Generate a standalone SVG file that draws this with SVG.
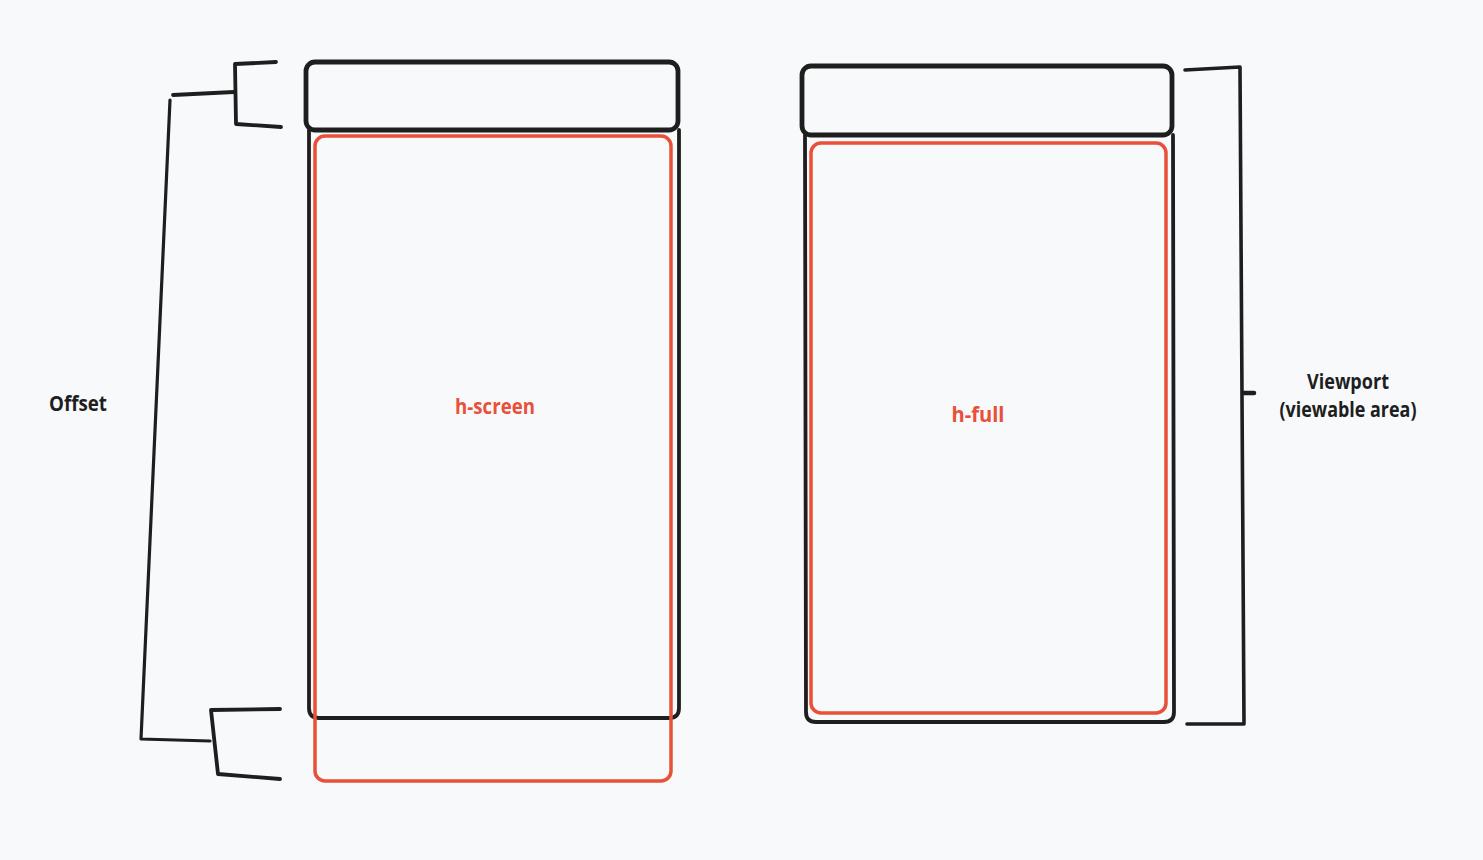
<svg xmlns="http://www.w3.org/2000/svg" width="1483" height="860" viewBox="0 0 1483 860">
<style>
.blk{fill:none;stroke:#1e1e1e;stroke-linecap:round;stroke-linejoin:round}
.red{fill:none;stroke:#e8503a;stroke-width:3.5;stroke-linejoin:round}
.t{font-family:"Open Sans","Liberation Sans",sans-serif;font-weight:700;font-size:22px;text-anchor:middle;dominant-baseline:central}
</style>
<rect width="1483" height="860" fill="#f8f9fa"/>
<g id="phone-left">
<path class="blk" stroke-width="3.8" d="M309 130 L309 708 Q309 718 319 718 L669 718 Q679 718 679 708 L679 130"/>
<rect class="blk" stroke-width="4.8" x="306" y="62" width="372" height="68" rx="9"/>
</g>
<g id="hscreen">
<rect class="red" x="315" y="136" width="356" height="645" rx="10"/>
<text class="t" x="495" y="405" fill="#e8503a" textLength="80" lengthAdjust="spacingAndGlyphs">h-screen</text>
</g>
<g id="phone-right">
<path class="blk" stroke-width="3.8" d="M805 135 L806 712 Q806 722 816 722 L1164 722 Q1174 722 1174 712 L1173 135"/>
<rect class="blk" stroke-width="4.8" x="802" y="66" width="370" height="69" rx="9"/>
</g>
<g id="hfull">
<rect class="red" x="811" y="143" width="355" height="570" rx="10"/>
<text class="t" x="978" y="413" fill="#e8503a" textLength="53" lengthAdjust="spacingAndGlyphs">h-full</text>
</g>
<g id="connectors">
<path class="blk" stroke-width="3.8" d="M276 62 L235 64 L236 124 L281 127"/>
<path class="blk" stroke-width="3.8" d="M234 92 L173 95"/>
<path class="blk" stroke-width="3.2" d="M170 100 L141 739 L210 741"/>
<path class="blk" stroke-width="3.8" d="M280 709 L211 710 L218 774 L280 779"/>
<path class="blk" stroke-width="3.6" d="M1185 70 L1240 67 L1244 724 L1187 724"/>
<path class="blk" stroke-width="4.5" d="M1244 393 L1254 393"/>
</g>
<g id="labels">
<text class="t" x="78" y="402" fill="#1e1e1e" textLength="58" lengthAdjust="spacingAndGlyphs">Offset</text>
<text class="t" x="1348" y="380" fill="#1e1e1e" textLength="82" lengthAdjust="spacingAndGlyphs">Viewport</text>
<text class="t" x="1348" y="408" fill="#1e1e1e" textLength="137" lengthAdjust="spacingAndGlyphs">(viewable area)</text>
</g>
</svg>
